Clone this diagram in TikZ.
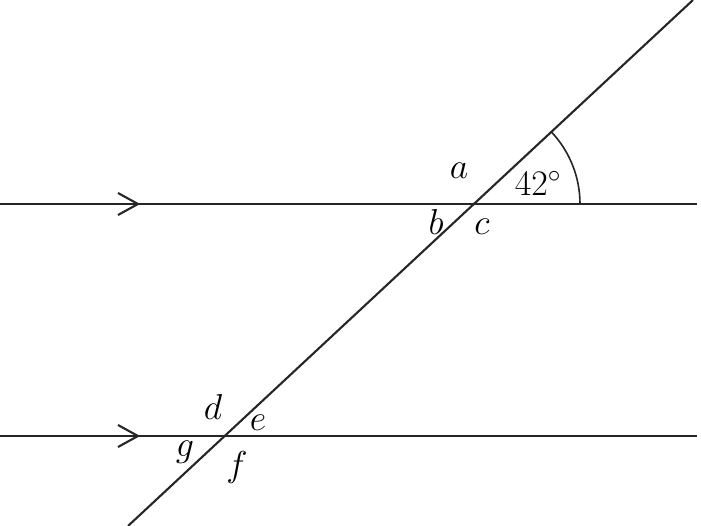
\RequirePackage{fix-cm}
\documentclass[tikz,border=0pt]{standalone}
\begin{document}
\begin{tikzpicture}[x=1pt,y=-1pt,
  ln/.style={line width=2.1pt,black!85},
  lbl/.style={font=\fontsize{36}{40}\selectfont,inner sep=0pt}]
\useasboundingbox (0,0) rectangle (701,526);
\fill[white] (0,0) rectangle (701,526);
% coordinates
\coordinate (P) at (475,204);
\coordinate (Q) at (226,436);
\coordinate (L1a) at (0,204);
\coordinate (L1b) at (697,204);
\coordinate (L2a) at (0,436);
\coordinate (L2b) at (697,436);
\coordinate (Ttop) at (693,0);
\coordinate (Tbot) at (128,526);
\coordinate (A1) at (138,204);
\coordinate (A2) at (138,436);
% lines
\draw[ln] (L1a) -- (L1b);
\draw[ln] (L2a) -- (L2b);
\draw[ln] (Tbot) -- (Ttop);
% arrows
\draw[ln,line join=miter] ([shift={(-20,-11)}]A1) -- (A1) -- ([shift={(-20,11)}]A1);
\draw[ln,line join=miter] ([shift={(-20,-11)}]A2) -- (A2) -- ([shift={(-20,11)}]A2);
% angle arc (y axis inverted, so angle sign flips)
\draw[line width=1.6pt,black!85] ([shift={(105,0)}]P) arc[start angle=0,end angle=-43,radius=105];
% labels
\node[lbl] (la) at (459,171) {$a$};
\node[lbl] (l42) at (538,183) {$42^\circ$};
\node[lbl] (lb) at (436,222) {$b$};
\node[lbl] (lc) at (482,227) {$c$};
\node[lbl] (ld) at (213,407) {$d$};
\node[lbl] (le) at (258,423) {$e$};
\node[lbl] (lf) at (237,467) {$f$};
\node[lbl] (lg) at (185,452) {$g$};
\end{tikzpicture}
\end{document}
